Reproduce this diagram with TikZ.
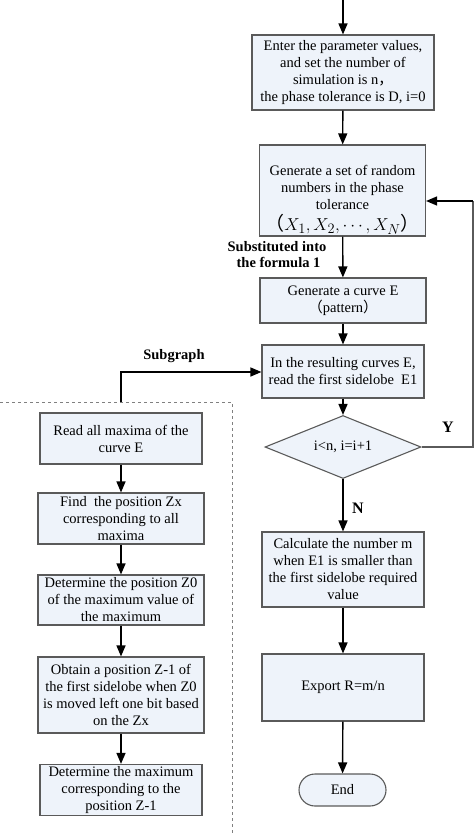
\documentclass[tikz,border=0pt]{standalone}
\usepackage{fontspec}
\setmainfont{Liberation Serif}
\newfontfamily\cjk{Noto Sans CJK SC}
\usetikzlibrary{arrows.meta,shapes.geometric}
\definecolor{boxfill}{HTML}{EEF3FA}
\definecolor{boxline}{HTML}{5A5A5A}
\tikzset{
  x=1pt,y=-1pt,
  procbox/.style={draw=boxline,fill=boxfill,line width=1.1pt,align=center,inner sep=2pt,
    font=\fontsize{14.5}{17}\selectfont},
  txt/.style={align=center,inner sep=0pt,font=\fontsize{14.5}{17}\selectfont},
  lbl/.style={align=center,inner sep=0pt,font=\fontsize{14.5}{16}\selectfont\bfseries},
  flow/.style={line width=1.4pt,-{Triangle[length=11pt,width=9pt]}},
}
\begin{document}
\begin{tikzpicture}
\useasboundingbox (0,0) rectangle (474,835);
% right column
\coordinate (start) at (343,0);
\node[procbox,minimum width=182pt,minimum height=75pt] (b1) at (343,72.5)
  {Enter the parameter values,\\and set the number of\\simulation is n{\cjk ，}\\the phase tolerance is D, i=0};
\node[procbox,minimum width=166pt,minimum height=91pt] (b2) at (342.5,190.5) {};
\node[txt] (b2t) at (342.5,200) {Generate a set of random\\numbers in the phase\\tolerance\\[4pt]
  {\fontsize{19}{19}\selectfont{\cjk （}$X_1, X_2, \cdots, X_N${\cjk ）}}};
\node[procbox,minimum width=166pt,minimum height=45pt] (b3) at (343,300.5)
  {Generate a curve E\\{\cjk （}pattern{\cjk ）}};
\node[procbox,minimum width=162pt,minimum height=53pt] (b4) at (343,371.5)
  {In the resulting curves E,\\read the first sidelobe \ E1};
\node[draw=boxline,fill=boxfill,line width=1.1pt,diamond,aspect=2.48,minimum width=156pt,minimum height=63pt,inner sep=0pt] (d) at (343,447) {};
\node[txt] (dt) at (343,447) {i{\textless}n, i=i+1};
\node[procbox,minimum width=162pt,minimum height=75pt] (b5) at (343,569.5)
  {Calculate the number m\\when E1 is smaller than\\the first sidelobe required\\value};
\node[procbox,minimum width=162pt,minimum height=67pt] (b6) at (343,687.5) {Export R=m/n};
\node[procbox,rounded corners=16pt,minimum width=87pt,minimum height=32pt] (end) at (342.5,790) {End};

\draw[flow] (start) -- (b1);
\draw[flow] (b1) -- (b2);
\draw[flow] (b2) -- (b3);
\draw[flow] (b3) -- (b4);
\draw[flow] (b4) -- (d);
\draw[flow] (d) -- (b5);
\draw[flow] (b5) -- (b6);
\draw[flow] (b6) -- (end);

% loop back
\coordinate (lc1) at (473,447);
\coordinate (lc2) at (473,201);
\draw[boxline,line width=1.1pt] (d.east) -- (lc1) -- (lc2);
\draw[flow] (lc2) -- (b2.east |- lc2);

\node[lbl,align=left] (sub) at (277,255) {Substituted into\\\hspace*{9pt}the formula 1};
\node[lbl,font=\fontsize{16}{17}\selectfont\bfseries] (Y) at (448,427) {Y};
\node[lbl,font=\fontsize{16}{17}\selectfont\bfseries] (N) at (358,508) {N};
\node[lbl] (sg) at (174,356) {Subgraph};

% left column
\node[procbox,minimum width=162pt,minimum height=51pt] (l1) at (121,438.5)
  {Read all maxima of the\\curve E};
\node[procbox,minimum width=166pt,minimum height=51pt] (l2) at (121,518.5)
  {Find \ the position Zx\\corresponding to all\\maxima};
\node[procbox,minimum width=166pt,minimum height=50pt] (l3) at (121,600)
  {Determine the position Z0\\of the maximum value of\\the maximum};
\node[procbox,minimum width=166pt,minimum height=76pt] (l4) at (121,695)
  {Obtain a position Z-1 of\\the first sidelobe when Z0\\is moved left one bit based\\on the Zx};
\node[procbox,minimum width=162pt,minimum height=48pt] (l5) at (121,790)
  {Determine the maximum\\corresponding to the\\position Z-1};
\draw[flow] (l1) -- (l2);
\draw[flow] (l2) -- (l3);
\draw[flow] (l3) -- (l4);
\draw[flow] (l4) -- (l5);

% dashed frame
\coordinate (f1) at (0,402);
\coordinate (f2) at (232,402);
\coordinate (f3) at (232,835);
\draw[gray,dashed,line width=1pt] (f1) -- (f2) -- (f3);

% subgraph connector
\coordinate (sgs) at (121,402);
\coordinate (sgc) at (121,372);
\draw[flow] (sgs) -- (sgc) -- (b4.west |- sgc);
\end{tikzpicture}
\end{document}
